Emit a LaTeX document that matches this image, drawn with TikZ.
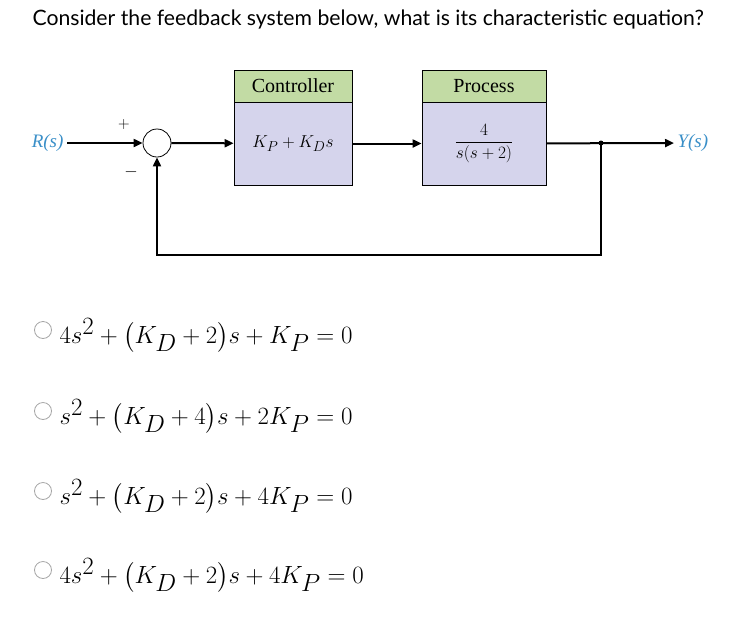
\documentclass[tikz,border=0pt]{standalone}
\usepackage{fontspec}
\usepackage{amsmath}
\usetikzlibrary{arrows.meta}
\newfontfamily\lato{Lato}
\newfontfamily\tms{Liberation Serif}
\definecolor{hdr}{HTML}{C2DBA4}
\definecolor{bdy}{HTML}{D5D4EC}
\definecolor{sig}{HTML}{3A8FC8}
\begin{document}
\begin{tikzpicture}[x=1pt,y=-1pt,
  hd/.style={draw,fill=hdr,line width=0.8pt,minimum height=32pt,inner sep=0pt,font=\tms\fontsize{20}{22}\selectfont},
  bd/.style={draw,fill=bdy,line width=0.8pt,inner sep=0pt},
  sg/.style={line width=2pt,-{Triangle[length=9pt,width=8pt]}},
  opt/.style={draw,gray!70,line width=0.8pt,circle,minimum size=17pt,inner sep=0pt},
  eq/.style={anchor=west,font=\fontsize{35}{40}\selectfont}]
\useasboundingbox (0,0) rectangle (755,627);
\node[anchor=west,font=\lato\fontsize{21.2}{24}\selectfont] (t) at (29,20) {Consider the feedback system below, what is its characteristic equation?};
% boxes
\node[bd,minimum width=118pt,minimum height=83pt] (c) at (293,143.5) {\fontsize{19}{22}\selectfont$K_P+K_Ds$};
\node[hd,minimum width=118pt] (ch) at (293,86) {Controller};
\node[bd,minimum width=124pt,minimum height=83pt] (p) at (484,143.5) {\fontsize{19}{22}\selectfont$\dfrac{4}{s(s+2)}$};
\node[hd,minimum width=124pt] (ph) at (484,86) {Process};
\node[circle,draw,line width=0.8pt,minimum size=28pt,inner sep=0pt] (s) at (157,143) {};
\node[text=sig,anchor=east,font=\tms\fontsize{19}{22}\selectfont\itshape] (r) at (67,143) {R(s)};
\node[text=sig,anchor=west,font=\tms\fontsize{19}{22}\selectfont\itshape] (y) at (674,143) {Y(s)};
\node[font=\fontsize{16}{18}\selectfont] (pl) at (124,125) {+};
\node[font=\fontsize{16}{18}\selectfont] (mi) at (131,172) {$-$};
\coordinate (br) at (601,143);
\coordinate (yb) at (601,255);
\coordinate (sb) at (157,255);
\draw[sg] (r) -- (s);
\draw[sg] (s) -- (c);
\draw[sg] (c) -- (p);
\draw[sg] (p) -- (y);
\draw[sg] (br) -- (yb) -- (sb) -- (s);
\fill (br) circle (2.5pt);
% options
\node[opt] (o1) at (43,330) {};
\node[opt] (o2) at (43,411) {};
\node[opt] (o3) at (43,491) {};
\node[opt] (o4) at (43,570) {};
\node[eq] (e1) at (56,335) {$4s^2+\big(K_D+2\big)s+K_P=0$};
\node[eq] (e2) at (56,416) {$s^2+\big(K_D+4\big)s+2K_P=0$};
\node[eq] (e3) at (56,496) {$s^2+\big(K_D+2\big)s+4K_P=0$};
\node[eq] (e4) at (56,575) {$4s^2+\big(K_D+2\big)s+4K_P=0$};
\end{tikzpicture}
\end{document}
